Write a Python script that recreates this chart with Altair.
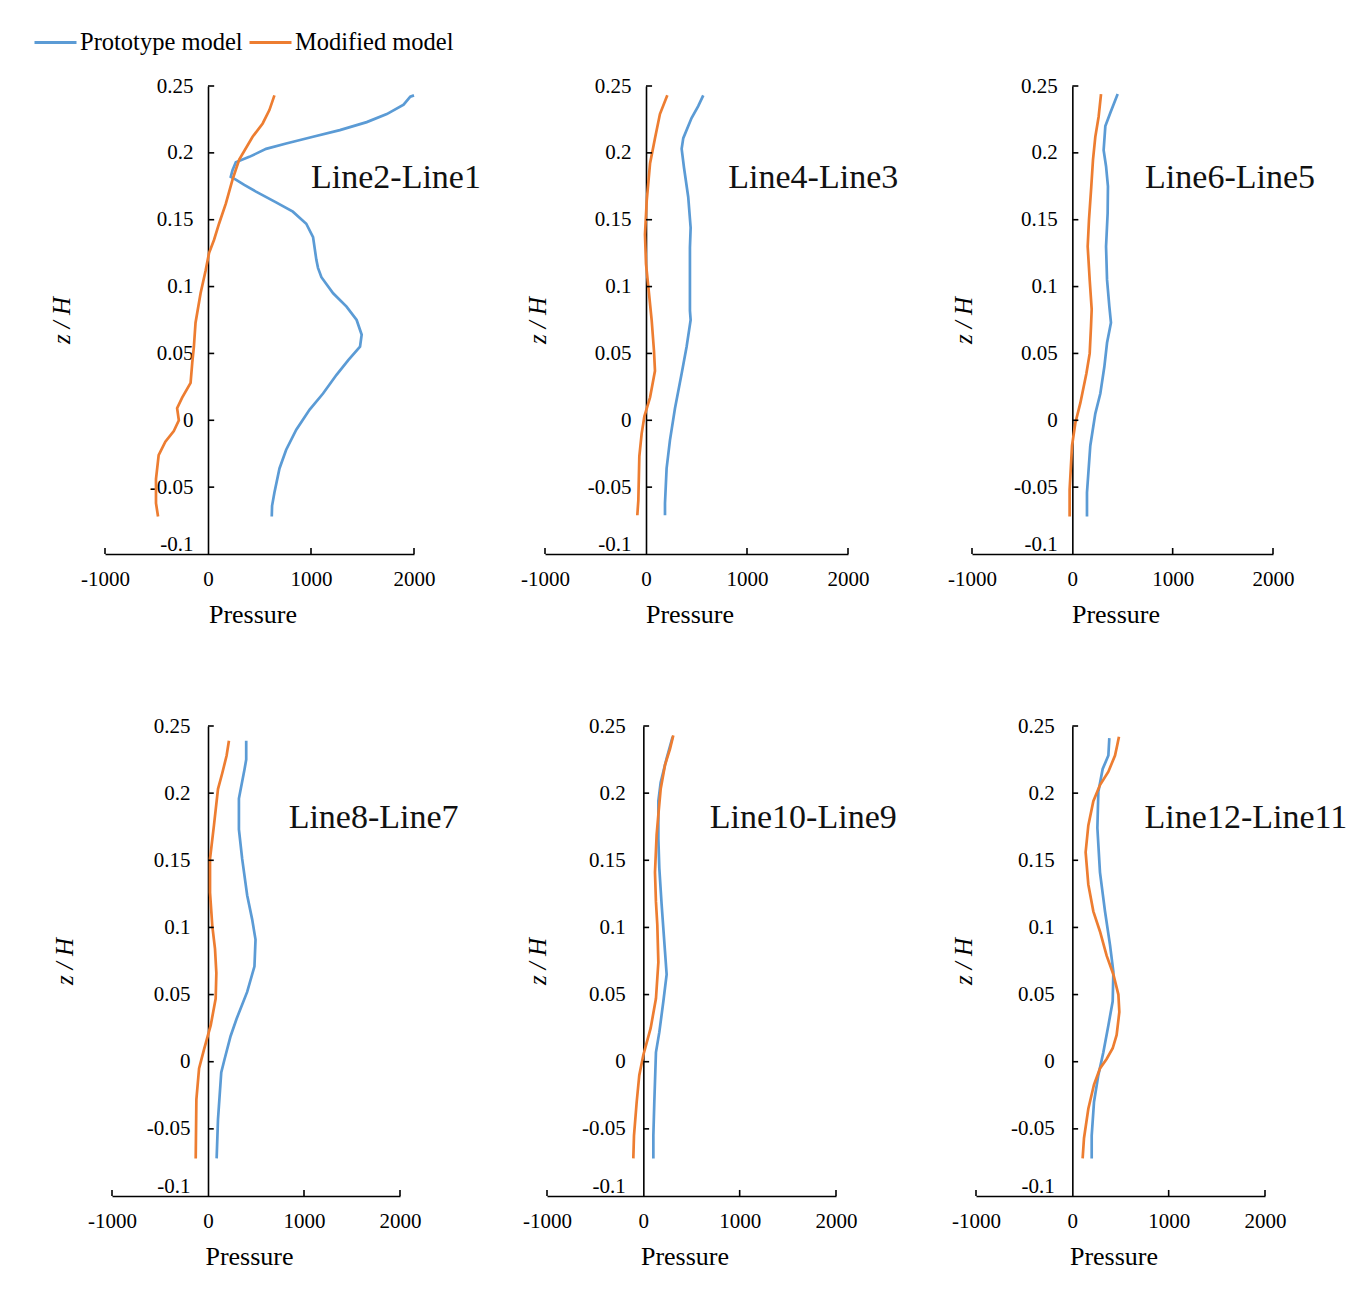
import altair as alt
import pandas as pd

SERIES = ["Prototype model", "Modified model"]
COLORS = ["#5B9BD5", "#ED7D31"]
PANEL_TITLES = ["Line2-Line1", "Line4-Line3", "Line6-Line5",
                "Line8-Line7", "Line10-Line9", "Line12-Line11"]
LABEL_X = [1000, 815, 725, 840, 690, 750]
LABEL_Z = 0.174
X_TICKS = [-1000, 0, 1000, 2000]
Y_TICKS = [-0.1, -0.05, 0, 0.05, 0.1, 0.15, 0.2, 0.25]
X_MINOR_TICKS = [-1000, 1000, 2000]
Y_MINOR_TICKS = [-0.05, 0, 0.05, 0.1, 0.15, 0.2, 0.25]

# Line2-Line1
p1_proto_p = [619, 622, 645, 694, 759, 857, 987, 1117, 1248, 1362, 1476, 1492, 1443, 1345, 1215, 1101,
              1068, 1052, 1020, 954, 824, 661, 466, 352, 270, 221, 238, 270, 401, 564, 759, 1020, 1280,
              1541, 1736, 1899, 1964, 2000]
p1_proto_z = [-0.072, -0.064, -0.054, -0.036, -0.022, -0.007, 0.008, 0.020, 0.034, 0.045, 0.055, 0.064,
              0.075, 0.085, 0.095, 0.107, 0.114, 0.120, 0.137, 0.147, 0.156, 0.163, 0.171, 0.176, 0.180,
              0.182, 0.187, 0.193, 0.197, 0.203, 0.207, 0.212, 0.217, 0.223, 0.229, 0.236, 0.242, 0.243]
p1_mod_p = [-485, -505, -505, -479, -414, -332, -283, -300, -251, -169, -153, -137, -121, -72, -23, 10,
            59, 107, 173, 238, 303, 433, 531, 596, 645]
p1_mod_z = [-0.072, -0.062, -0.044, -0.026, -0.016, -0.008, 0.000, 0.009, 0.017, 0.028, 0.043, 0.055,
            0.073, 0.095, 0.112, 0.125, 0.135, 0.147, 0.162, 0.180, 0.195, 0.212, 0.222, 0.232, 0.243]

# Line4-Line3
p2_proto_p = [188, 188, 204, 237, 287, 353, 402, 442, 435, 435, 435, 442, 418, 376, 353, 369, 451, 517, 567]
p2_proto_z = [-0.071, -0.062, -0.036, -0.015, 0.009, 0.035, 0.055, 0.075, 0.082, 0.104, 0.129, 0.144,
              0.167, 0.189, 0.203, 0.211, 0.226, 0.235, 0.243]
p2_mod_p = [-86, -76, -66, -43, -16, 40, 89, 79, 56, 23, 0, -10, 7, 40, 89, 138, 211]
p2_mod_z = [-0.071, -0.060, -0.027, -0.010, 0.003, 0.017, 0.037, 0.052, 0.075, 0.100, 0.117, 0.139,
            0.164, 0.192, 0.211, 0.229, 0.243]

# Line6-Line5
p3_proto_p = [146, 146, 179, 229, 279, 319, 346, 385, 369, 346, 336, 352, 355, 336, 312, 329, 379, 452]
p3_proto_z = [-0.072, -0.054, -0.019, 0.005, 0.020, 0.040, 0.058, 0.073, 0.085, 0.105, 0.130, 0.155,
              0.175, 0.190, 0.202, 0.220, 0.230, 0.244]
p3_mod_p = [-27, -27, -3, 30, 80, 140, 173, 186, 193, 173, 153, 166, 189, 206, 229, 262, 286]
p3_mod_z = [-0.072, -0.052, -0.019, -0.002, 0.013, 0.035, 0.050, 0.070, 0.083, 0.105, 0.130, 0.150,
            0.175, 0.195, 0.212, 0.227, 0.244]

# Line8-Line7
p4_proto_p = [90, 104, 138, 173, 235, 298, 408, 484, 495, 460, 408, 356, 322, 322, 381, 398, 398]
p4_proto_z = [-0.072, -0.043, -0.008, 0.002, 0.019, 0.032, 0.052, 0.071, 0.091, 0.106, 0.124, 0.151,
              0.173, 0.196, 0.218, 0.225, 0.239]
p4_mod_p = [-128, -121, -93, -42, 28, 80, 87, 73, 45, 21, 21, 62, 104, 149, 194, 218]
p4_mod_z = [-0.072, -0.028, -0.005, 0.009, 0.027, 0.047, 0.066, 0.084, 0.101, 0.126, 0.151, 0.176,
            0.203, 0.215, 0.228, 0.239]

# Line10-Line9
p5_proto_p = [104, 104, 114, 131, 166, 208, 242, 225, 190, 166, 156, 156, 180, 242, 304]
p5_proto_z = [-0.072, -0.055, -0.030, 0.007, 0.022, 0.045, 0.065, 0.082, 0.117, 0.144, 0.166, 0.194,
              0.208, 0.226, 0.242]
p5_mod_p = [-104, -97, -69, -42, 0, 76, 131, 156, 145, 131, 121, 138, 156, 180, 225, 277, 311]
p5_mod_z = [-0.072, -0.055, -0.030, -0.010, 0.005, 0.025, 0.047, 0.074, 0.102, 0.119, 0.141, 0.169,
            0.184, 0.203, 0.221, 0.233, 0.243]

# Line12-Line11
p6_proto_p = [201, 201, 225, 270, 322, 374, 419, 426, 391, 339, 287, 260, 270, 315, 374, 384]
p6_proto_z = [-0.072, -0.055, -0.030, -0.010, 0.007, 0.027, 0.045, 0.067, 0.087, 0.112, 0.141, 0.174,
              0.201, 0.218, 0.228, 0.241]
p6_mod_p = [107, 121, 166, 225, 287, 356, 419, 460, 488, 478, 426, 356, 287, 218, 166, 138, 166, 218,
            287, 374, 443, 467, 484]
p6_mod_z = [-0.072, -0.057, -0.035, -0.017, -0.005, 0.002, 0.010, 0.020, 0.037, 0.050, 0.065, 0.079,
            0.097, 0.112, 0.132, 0.156, 0.176, 0.194, 0.206, 0.216, 0.228, 0.236, 0.242]

PANELS = [
    (p1_proto_p, p1_proto_z, p1_mod_p, p1_mod_z),
    (p2_proto_p, p2_proto_z, p2_mod_p, p2_mod_z),
    (p3_proto_p, p3_proto_z, p3_mod_p, p3_mod_z),
    (p4_proto_p, p4_proto_z, p4_mod_p, p4_mod_z),
    (p5_proto_p, p5_proto_z, p5_mod_p, p5_mod_z),
    (p6_proto_p, p6_proto_z, p6_mod_p, p6_mod_z),
]

# layout (pixels)
WIDTHS = [309, 303, 301, 288, 289, 289]
HEIGHTS = [468, 468, 468, 470, 470, 470]
YLAB_PAD = [15, 15, 15, 18, 18, 18]
YTITLE_X = [-147, -109, -109, -144, -106, -109]

FONT = "Liberation Serif"


def make_panel(k):
    w, h = WIDTHS[k], HEIGHTS[k]
    pp, pz, mp, mz = PANELS[k]
    rows = []
    for i, (p, z) in enumerate(zip(pp, pz)):
        rows.append({"series": SERIES[0], "idx": i, "pressure": p, "zH": z})
    for i, (p, z) in enumerate(zip(mp, mz)):
        rows.append({"series": SERIES[1], "idx": i, "pressure": p, "zH": z})
    df = pd.DataFrame(rows)

    x_enc = alt.X(
        "pressure:Q",
        scale=alt.Scale(domain=[-1000, 2000], nice=False, zero=False),
        axis=alt.Axis(
            values=X_TICKS, title="Pressure", ticks=False, tickSize=0, grid=False,
            labelExpr="'' + datum.value", labelFlush=False, labelPadding=14,
            labelFont=FONT, labelFontSize=21, labelColor="black",
            titleFont=FONT, titleFontSize=26, titleFontWeight="normal", titleColor="black",
            titlePadding=12, titleX=w / 2 - 7, titleAlign="center",
            domainColor="black", domainWidth=1.6,
        ),
    )
    y_enc = alt.Y(
        "zH:Q",
        scale=alt.Scale(domain=[-0.1, 0.25], nice=False, zero=False),
        axis=alt.Axis(
            values=Y_TICKS, title="z / H", ticks=False, tickSize=0, grid=False,
            offset=-w / 3,
            labelExpr="'' + datum.value", labelFlush=False, labelPadding=YLAB_PAD[k],
            labelBaseline={"condition": {"test": "datum.value < -0.09", "value": "bottom"},
                           "value": "middle"},
            labelFont=FONT, labelFontSize=21, labelColor="black",
            titleFont=FONT, titleFontSize=25, titleFontStyle="italic", titleFontWeight="normal",
            titleColor="black", titleAngle=-90, titleX=YTITLE_X[k], titleY=h / 2,
            titleAlign="center", titleBaseline="middle",
            domainColor="black", domainWidth=1.6,
        ),
    )

    lines = alt.Chart(df).mark_line(strokeWidth=2.7).encode(
        x=x_enc,
        y=y_enc,
        order="idx:Q",
        color=alt.Color(
            "series:N",
            scale=alt.Scale(domain=SERIES, range=COLORS),
            legend=alt.Legend(
                orient="none", legendX=-72, legendY=-66, direction="horizontal",
                title=None, symbolType="stroke", symbolSize=1764, symbolStrokeWidth=3,
                labelFont=FONT, labelFontSize=24.5, labelColor="black", labelOffset=2,
                columnPadding=0, padding=0, labelLimit=400,
            ),
        ),
    )

    ytick_df = pd.DataFrame({"pressure": [0] * len(Y_MINOR_TICKS),
                             "pressure2": [60] * len(Y_MINOR_TICKS),
                             "zH": Y_MINOR_TICKS})
    yticks = alt.Chart(ytick_df).mark_rule(color="black", strokeWidth=1.6).encode(
        x=x_enc, x2=alt.X2("pressure2"), y=y_enc)

    xtick_df = pd.DataFrame({"pressure": X_MINOR_TICKS,
                             "zH": [-0.1] * len(X_MINOR_TICKS),
                             "zH2": [-0.1 + 0.0045] * len(X_MINOR_TICKS)})
    xticks = alt.Chart(xtick_df).mark_rule(color="black", strokeWidth=1.6).encode(
        x=x_enc, y=y_enc, y2=alt.Y2("zH2"))

    lab_df = pd.DataFrame({"pressure": [LABEL_X[k]], "zH": [LABEL_Z], "label": [PANEL_TITLES[k]]})
    label = alt.Chart(lab_df).mark_text(
        align="left", baseline="alphabetic", font=FONT, fontSize=34, color="#111111"
    ).encode(x=x_enc, y=y_enc, text="label:N")

    return alt.layer(lines, yticks, xticks, label).properties(width=w, height=h)


panels = [make_panel(k) for k in range(6)]

spacer = alt.Chart(pd.DataFrame({"a": [0]})).mark_point(opacity=0).encode(
    x=alt.X("a:Q", axis=None), y=alt.Y("a:Q", axis=None)
).properties(width=1, height=1)

top_row = alt.hconcat(
    panels[0],
    alt.hconcat(panels[1], panels[2], spacing=124, bounds="flush"),
    spacing=131, bounds="flush",
)
bottom_row = alt.hconcat(
    spacer,
    alt.hconcat(
        panels[3],
        alt.hconcat(panels[4], panels[5], spacing=140, bounds="flush"),
        spacing=147, bounds="flush",
    ),
    spacing=6, bounds="flush",
)

chart = alt.vconcat(top_row, bottom_row, spacing=88, bounds="full").properties(
    padding={"left": 33, "top": 20, "right": 5, "bottom": 5}
).configure(font=FONT).configure_view(stroke=None)

chart.save("out.html", embed_options={"renderer": "svg", "actions": False})
